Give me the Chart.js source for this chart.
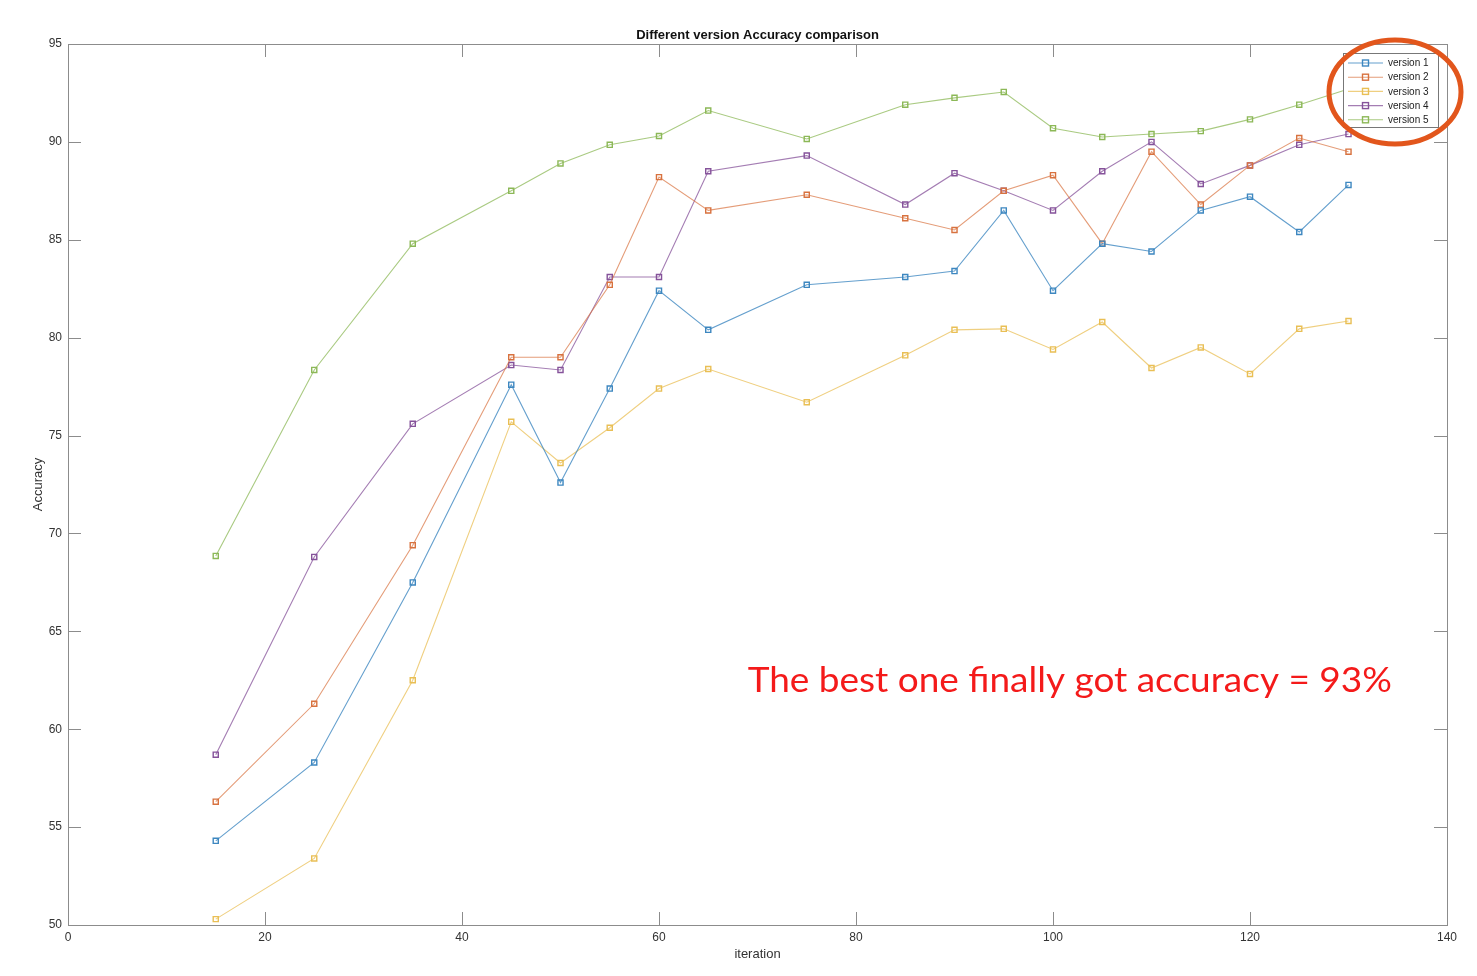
<!DOCTYPE html>
<html>
<head>
<meta charset="utf-8">
<script src="https://cdn.jsdelivr.net/npm/chart.js@4"></script>
<style>
  html, body { margin: 0; padding: 0; background: #fff; }
  #wrap { width: 1477px; height: 976px; position: relative; }
</style>
</head>
<body>
<div id="wrap"><canvas id="chart" width="1477" height="976"></canvas></div>
<script>
// --- datos ---
const iterations = [15, 25, 35, 45, 50, 55, 60, 65, 75, 85, 90, 95, 100, 105, 110, 115, 120, 125, 130];

const version1 = [54.3, 58.3, 67.5, 77.6, 72.6, 77.4, 82.4, 80.4, 82.7, 83.1, 83.4, 86.5, 82.4, 84.8, 84.4, 86.5, 87.2, 85.4, 87.8];
const version2 = [56.3, 61.3, 69.4, 79.0, 79.0, 82.7, 88.2, 86.5, 87.3, 86.1, 85.5, 87.5, 88.3, 84.8, 89.5, 86.8, 88.8, 90.2, 89.5];
const version3 = [50.3, 53.4, 62.5, 75.7, 73.6, 75.4, 77.4, 78.4, 76.7, 79.1, 80.4, 80.45, 79.4, 80.8, 78.45, 79.5, 78.15, 80.45, 80.85];
const version4 = [58.7, 68.8, 75.6, 78.6, 78.35, 83.1, 83.1, 88.5, 89.3, 86.8, 88.4, 87.5, 86.5, 88.5, 90.0, 87.85, 88.8, 89.85, 90.4];
const version5 = [68.85, 78.35, 84.8, 87.5, 88.9, 89.85, 90.3, 91.6, 90.15, 91.9, 92.25, 92.55, 90.7, 90.25, 90.4, 90.55, 91.15, 91.9, 92.7];

const seriesNames = ['version 1', 'version 2', 'version 3', 'version 4', 'version 5'];
const seriesValues = [version1, version2, version3, version4, version5];
const seriesColors = ['#3d87c0', '#d8723f', '#e9bf55', '#85529a', '#8cb857'];
const lineColors = ['rgba(61,135,192,0.8)', 'rgba(216,114,63,0.7)', 'rgba(233,191,85,0.75)', 'rgba(133,82,154,0.75)', 'rgba(140,184,87,0.75)'];

const xTicks = [0, 20, 40, 60, 80, 100, 120, 140];
const yTicks = [50, 55, 60, 65, 70, 75, 80, 85, 90, 95];

const chartTitle = 'Different version Accuracy comparison';
const xLabel = 'iteration';
const yLabel = 'Accuracy';
const note = 'The best one finally got accuracy = 93%';

const AXIS_COLOR = '#8c8c8c';
const FONT = '"Liberation Sans", Arial, Helvetica, sans-serif';

// --- datasets ---
const datasets = seriesNames.map((name, i) => ({
  label: name,
  data: iterations.map((x, j) => ({ x: x, y: seriesValues[i][j] })),
  borderColor: lineColors[i],
  backgroundColor: seriesColors[i],
  borderWidth: 1.1,
  pointStyle: 'rect',
  pointRadius: 3.6,
  pointBorderWidth: 1.4,
  pointBackgroundColor: 'rgba(255,255,255,0)',
  pointBorderColor: seriesColors[i],
  tension: 0
}));

// plugin: marco, ticks hacia dentro, titulos, leyenda y anotacion
const decorPlugin = {
  id: 'decor',
  afterDatasetsDraw(chart) {
    const ctx = chart.ctx;
    const a = chart.chartArea;
    const sx = chart.scales.x, sy = chart.scales.y;
    const TL = 13;

    ctx.save();
    // marco completo
    ctx.strokeStyle = AXIS_COLOR;
    ctx.lineWidth = 1;
    ctx.strokeRect(a.left + 0.5, a.top + 0.5, a.right - a.left, a.bottom - a.top);

    // ticks hacia dentro (4 lados)
    ctx.beginPath();
    xTicks.forEach(v => {
      const px = Math.round(sx.getPixelForValue(v)) + 0.5;
      ctx.moveTo(px, a.bottom); ctx.lineTo(px, a.bottom - TL);
      ctx.moveTo(px, a.top); ctx.lineTo(px, a.top + TL);
    });
    yTicks.forEach(v => {
      const py = Math.round(sy.getPixelForValue(v)) + 0.5;
      ctx.moveTo(a.left, py); ctx.lineTo(a.left + TL, py);
      ctx.moveTo(a.right, py); ctx.lineTo(a.right - TL, py);
    });
    ctx.stroke();

    // titulo
    ctx.fillStyle = '#111';
    ctx.font = 'bold 13px ' + FONT;
    ctx.textAlign = 'center';
    ctx.textBaseline = 'bottom';
    ctx.fillText(chartTitle, (a.left + a.right) / 2, a.top - 2);

    // etiquetas de ejes
    ctx.fillStyle = '#333';
    ctx.font = '13px ' + FONT;
    ctx.textBaseline = 'middle';
    ctx.fillText(xLabel, (a.left + a.right) / 2, a.bottom + 29);
    ctx.save();
    ctx.translate(a.left - 30, (a.top + a.bottom) / 2);
    ctx.rotate(-Math.PI / 2);
    ctx.fillText(yLabel, 0, 0);
    ctx.restore();

    // leyenda (recuadro blanco arriba a la derecha)
    const lw = 95, lh = 74;
    const lx = a.right - 104, ly = a.top + 9;
    ctx.fillStyle = '#fff';
    ctx.fillRect(lx, ly, lw, lh);
    ctx.strokeStyle = '#777';
    ctx.strokeRect(lx + 0.5, ly + 0.5, lw, lh);
    ctx.font = '10px ' + FONT;
    ctx.textAlign = 'left';
    ctx.textBaseline = 'middle';
    seriesNames.forEach((name, i) => {
      const yy = ly + 10 + i * 14.2;
      ctx.strokeStyle = lineColors[i];
      ctx.lineWidth = 1.1;
      ctx.beginPath();
      ctx.moveTo(lx + 5, yy); ctx.lineTo(lx + 40, yy);
      ctx.stroke();
      ctx.strokeStyle = seriesColors[i];
      ctx.lineWidth = 1.4;
      ctx.strokeRect(lx + 19.5, yy - 3, 6, 6);
      ctx.fillStyle = '#222';
      ctx.fillText(name, lx + 45, yy + 0.5);
    });

    // elipse naranja alrededor de la leyenda
    ctx.strokeStyle = '#e2561c';
    ctx.lineWidth = 5;
    ctx.beginPath();
    ctx.ellipse(a.right - 52, a.top + 48, 66, 52, 0, 0, Math.PI * 2);
    ctx.stroke();

    // anotacion roja (ancho ajustado al de la figura)
    ctx.fillStyle = '#f41a1a';
    ctx.font = '35px Lato, "Open Sans", sans-serif';
    ctx.textAlign = 'left';
    ctx.textBaseline = 'alphabetic';
    const nx = sx.getPixelForValue(69.0), ny = sy.getPixelForValue(61.9);
    const targetW = sx.getPixelForValue(134.4) - nx;
    const k = targetW / ctx.measureText(note).width;
    ctx.translate(nx, ny);
    ctx.scale(k, 1);
    ctx.fillText(note, 0, 0);
    ctx.restore();
  }
};

new Chart(document.getElementById('chart'), {
  type: 'line',
  data: { datasets: datasets },
  plugins: [decorPlugin],
  options: {
    responsive: false,
    animation: false,
    layout: { padding: { left: 0, top: 44, right: 30, bottom: 0 } },
    plugins: { legend: { display: false }, tooltip: { enabled: false }, title: { display: false } },
    scales: {
      x: {
        type: 'linear',
        min: 0, max: 140,
        afterBuildTicks: s => { s.ticks = xTicks.map(v => ({ value: v })); },
        afterFit: s => { s.height = 51; },
        grid: { display: false, drawTicks: false },
        border: { display: false },
        ticks: { padding: 5, color: '#333', font: { family: FONT, size: 12 } }
      },
      y: {
        type: 'linear',
        min: 50, max: 95,
        afterBuildTicks: s => { s.ticks = yTicks.map(v => ({ value: v })); },
        afterFit: s => { s.width = 68; },
        grid: { display: false, drawTicks: false },
        border: { display: false },
        ticks: { padding: 6, color: '#333', font: { family: FONT, size: 12 } }
      }
    }
  }
});
</script>
</body>
</html>
